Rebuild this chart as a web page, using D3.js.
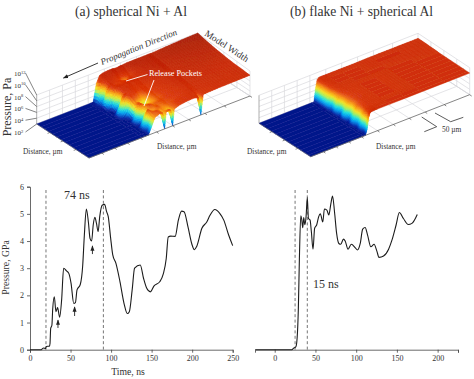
<!DOCTYPE html>
<html><head><meta charset="utf-8">
<script src="https://cdn.jsdelivr.net/npm/d3@7"></script>
<style>html,body{margin:0;padding:0;background:#fff}svg{display:block}text{font-family:"Liberation Serif",serif;fill:#333}</style>
</head><body><svg id="c" width="474" height="379"></svg>
<script>
// ---------- line chart data ----------
const timeA=[0,14,15,17,19,20,24,24.7,25.5,27,28,30,32,34,36.6,39,41.5,45,48,50.6,54,56,58,62,65,67,69.5,72,74,76,78,80,82,84,86,89,92,94.5,96.5,99.5,102,106,111,116,120,122.5,126,129,136,140,144,148.5,153,160,164.5,168,170.5,173.5,179,183,187,190,195,199.5,202.7,205.6,212,218,222,228,234,239,245,250];
const pressA=[0,0,.03,.06,.04,.12,.13,.23,.78,.9,1.5,1.95,1.4,1.55,1.2,1.83,3,2.9,2.8,2.45,1.7,1.73,2.2,2.4,3.1,4.2,5.18,4.7,4.1,4,4.6,4.87,4.65,4.35,4.9,5.32,5.35,5.08,4.9,4.1,3.5,3.18,2.5,1.7,1.33,1.4,2.2,3,3.12,2.63,2.26,2.13,2.35,2.5,2.8,3.35,4.15,4.18,4.17,4.77,5.1,5.08,4.5,3.9,3.68,3.8,4.47,4.7,4.95,5.16,5.02,4.77,4.22,3.83];
const timeB=[-24,21,23,26,27.5,29,30.3,32,33,34.4,35.6,37,38.5,40,41.4,43.4,45,47,49,51.6,54,56,59,61,64,66.4,69,71,73.4,76,78.7,81,84.4,86.5,90,94,99,101.6,105,108,111,114,118,122,125.4,128,133.6,139.8,144,149,153,158,164,168.4,175];
const pressB=[0,0,.05,.11,.42,1.5,3.36,4.93,4.83,4.49,4.86,4.6,4.9,5.6,4.83,4.77,4.34,3.7,4.47,4.6,4.9,5,4.7,5.18,5.14,4.96,5.39,5.66,5.08,4.28,3.91,3.88,4.07,4,3.7,3.88,3.75,3.67,3.91,4.44,4.5,4.22,3.79,3.88,3.63,3.4,3.45,3.7,4.04,4.59,5.05,4.83,4.61,4.65,4.98];
const yTicks=[0,1,2,3,4,5,6];
const xTicksA=[0,50,100,150,200,250];
const xTicksB=[0,50,100,150,200];
const dashA=[19.7,90.5];
const dashB=[25,40];
const upArrowT=[34.5,55,77];
const upArrowFrom=[.8,1.24,3.52];
const upArrowTo=[1.09,1.57,3.82];
// ---------- surface data: log-pressure height (percent of wall), rows across width ----------
const uA=[0,.33,.35,.37,.39,.41,.44,.46,.47,.48,.5,.51,.52,.53,.56,.6,.65,.68,.695,.71,.8,.9,1];
const vA=[0,.08,.15,.22,.3,.38,.46,.54,.62,.7,.78,.86,.93,1];
const zA=[
[0,0,0,60,84,88,90,90,90,89,88,89,90,90,92,92,92,92,92,92,95,98,100],
[0,0,4,72,86,86,84,84,84,83,82,83,84,84,88,90,90,90,90,90,93,95,97],
[0,0,2,20,80,82,76,72,68,62,58,64,72,74,84,88,89,89,89,89,92,93,95],
[0,0,0,66,80,74,72,74,74,74,74,75,76,76,82,86,88,88,88,88,90,92,93],
[0,0,0,0,72,80,78,80,80,80,80,80,80,80,82,86,86,87,87,87,89,90,91],
[0,0,0,0,20,78,80,77,76,76,76,77,78,78,80,84,85,85,85,85,88,89,89],
[0,0,0,40,76,74,76,74,72,73,74,74,74,74,76,80,84,85,85,85,87,88,88],
[0,0,0,0,10,72,68,64,60,64,70,71,72,72,76,80,83,84,84,84,86,86,86],
[0,0,0,0,0,64,50,40,36,46,62,66,70,70,74,78,82,83,83,83,85,85,85],
[0,0,0,0,30,74,60,58,56,58,60,64,68,68,72,76,80,82,82,82,84,84,84],
[0,0,0,0,0,30,72,68,64,66,68,69,70,70,72,76,78,80,80,81,83,83,84],
[0,0,0,0,40,72,56,64,70,66,62,65,68,68,70,74,78,80,78,80,82,82,84],
[0,0,0,0,8,66,70,64,50,60,56,50,54,66,72,76,78,78,72,78,81,82,83],
[0,0,0,0,30,60,68,66,0,64,70,64,0,64,72,76,78,74,0,78,81,82,83]];
const uB=[0,.33,.345,.355,.365,.375,.39,.42,.5,.6,.7,.85,1];
const vB=[0,.08,.16,.24,.32,.4,.48,.56,.64,.72,.8,.88,.95,1];
const zB=[
[0,0,0,44,74,80,81,81,81,81,82,82,82],
[0,0,0,30,64,78,80,80,80,80,81,81,82],
[0,0,2,34,56,74,79,80,80,80,81,81,82],
[0,0,0,32,56,72,78,80,80,80,80,81,81],
[0,0,0,6,30,64,76,79,80,80,80,80,81],
[0,0,0,24,50,58,72,78,79,79,80,80,80],
[0,0,0,2,14,48,68,77,79,79,80,80,80],
[0,0,0,30,40,52,66,76,79,79,80,80,80],
[0,0,0,0,10,34,64,76,79,79,80,80,80],
[0,0,0,20,36,56,68,77,79,79,80,80,80],
[0,0,0,2,14,44,70,78,79,79,80,80,80],
[0,0,0,16,36,64,74,78,80,80,80,80,80],
[0,0,0,3,30,70,78,80,80,80,80,80,80],
[0,0,0,20,64,78,80,80,80,80,80,80,80]];
const uTicks=[.08,.16,.24,.32,.42,.52,.62,.72,.84,1];
const vTicks=[.25,.5,.75];
const zTicks=[0,.2,.4,.6,.8,1];
const zLabelsExp=["2","4","6","8","10","12"];
const colorStops=[0,.04,.16,.27,.38,.48,.6,.72,.85,1];
const colorValues=["#06148a","#0a28a8","#0098f0","#20e0e0","#a8f060","#f4e020","#f89010","#dc380a","#c82606","#a41a02"];

const svg=d3.select("#c");
const color=d3.scaleLinear().domain(colorStops).range(colorValues).interpolate(d3.interpolateRgb).clamp(true);
const defs=svg.append("defs");
defs.append("filter").attr("id","soft").attr("x","-5%").attr("y","-5%").attr("width","110%").attr("height","110%")
  .append("feGaussianBlur").attr("stdDeviation",.4);
defs.append("marker").attr("id","ah").attr("viewBox","0 0 8 6").attr("refX",7).attr("refY",3).attr("markerWidth",6).attr("markerHeight",5).attr("orient","auto")
  .append("path").attr("d","M0,0L8,3L0,6Z").attr("fill","#222");

function panel(cfg){
  const g=svg.append("g");
  const sx=d3.scaleLinear().domain([0,1]).range([0,cfg.long[0]]);
  const sy=d3.scaleLinear().domain([0,1]).range([0,cfg.long[1]]);
  const wx=d3.scaleLinear().domain([0,1]).range([0,cfg.wide[0]]);
  const wy=d3.scaleLinear().domain([0,1]).range([0,cfg.wide[1]]);
  const P=(u,v,z)=>[cfg.o[0]+sx(u)+wx(v),cfg.o[1]+sy(u)+wy(v)-z*(cfg.zFar+(cfg.zNear-cfg.zFar)*v)];
  const L=(a,b,col,w)=>g.append("line").attr("x1",a[0]).attr("y1",a[1]).attr("x2",b[0]).attr("y2",b[1]).attr("stroke",col).attr("stroke-width",w);
  const grid="#d8d8dc";
  zTicks.forEach(z=>{L(P(0,0,z),P(1,0,z),grid,.7);L(P(1,0,z),P(1,1,z),grid,.7);});
  uTicks.forEach(u=>{L(P(u,0,0),P(u,0,1),grid,.7);L(P(u,0,0),P(u,1,0),grid,.7);});
  vTicks.forEach(v=>{L(P(0,v,0),P(1,v,0),grid,.7);L(P(1,v,0),P(1,v,1),grid,.7);});
  L(P(0,0,0),P(0,0,1),"#999",.8);L(P(1,1,0),P(1,1,1),grid,.7);
  L(P(0,0,0),P(1,0,0),grid,.7);L(P(1,0,0),P(1,1,0),grid,.7);
  const sg=g.append("g").attr("filter","url(#soft)");
  const n=6, quads=[];
  for(let r=0;r<cfg.v.length-1;r++) for(let c=cfg.u.length-2;c>=0;c--){
    const a=cfg.z[r][c],b=cfg.z[r][c+1],d=cfg.z[r+1][c],e=cfg.z[r+1][c+1];
    const flat=a===b&&b===d&&d===e, m=flat?1:n;
    const bl=(s,t)=>((a*(1-s)+b*s)*(1-t)+(d*(1-s)+e*s)*t)/100;
    for(let j=0;j<m;j++) for(let i=m-1;i>=0;i--){
      const U=s=>cfg.u[c]+(cfg.u[c+1]-cfg.u[c])*s, V=t=>cfg.v[r]+(cfg.v[r+1]-cfg.v[r])*t;
      const s0=i/m,s1=(i+1)/m,t0=j/m,t1=(j+1)/m;
      const pts=[[s0,t0],[s1,t0],[s1,t1],[s0,t1]].map(q=>P(U(q[0]),V(q[1]),bl(q[0],q[1])));
      quads.push({pts,z:bl((s0+s1)/2,(t0+t1)/2)});
    }
  }
  sg.selectAll("path").data(quads).join("path")
    .attr("d",d=>"M"+d.pts.join("L")+"Z")
    .attr("fill",d=>color(d.z)).attr("stroke",d=>color(d.z)).attr("stroke-width",.4);
  L(P(0,1,0),P(1,1,0),"#666",.8);L(P(0,0,0),P(0,1,0),"#666",.6);
  uTicks.forEach(u=>{const a=P(u,1,0);L(a,[a[0]+2,a[1]+1.4],"#555",.7);});
  vTicks.forEach(v=>{const a=P(0,v,0);L(a,[a[0]-2.2,a[1]+.9],"#555",.7);});
  return {P,g,L};
}
const pa=panel({o:[36.7,124],long:[161,-62],wide:[52.3,34],zFar:29,zNear:25,u:uA,v:vA,z:zA});
const pb=panel({o:[259,123.3],long:[159,-62],wide:[51.7,33.4],zFar:28,zNear:27,u:uB,v:vB,z:zB});

function txt(x,y,s,size,o={}){
  const t=svg.append("text").attr("x",x).attr("y",y).attr("font-size",size).text(s);
  if(o.anchor)t.attr("text-anchor",o.anchor);
  if(o.rot!==undefined)t.attr("transform",`rotate(${o.rot} ${x} ${y})`);
  if(o.italic)t.attr("font-style","italic");
  if(o.fill)t.style("fill",o.fill);
  return t;
}
txt(131,15.8,"(a) spherical Ni + Al",13.6,{anchor:"middle"});
txt(361.5,15.8,"(b) flake Ni + spherical Al",13.6,{anchor:"middle"});
txt(11,107,"Pressure, Pa",12,{anchor:"middle",rot:-90});
txt(102,65,"Propagation Direction",9,{italic:true,rot:-22});
txt(204,35,"Model Width",9.5,{rot:33});
[[23,154],[157,149],[247,154],[376,149]].forEach(p=>txt(p[0],p[1],"Distance, µm",7.4));
txt(442,132,"50 µm",7.4);
txt(149,75.5,"Release Pockets",8.2,{fill:"#fff"});

svg.append("line").attr("x1",98).attr("y1",63).attr("x2",63.5).attr("y2",78).attr("stroke","#222").attr("stroke-width",.9).attr("marker-end","url(#ah)");
[[147.5,74.5,126,81],[154,80,144,106]].forEach(a=>svg.append("line").attr("x1",a[0]).attr("y1",a[1]).attr("x2",a[2]).attr("y2",a[3]).attr("stroke","#fff").attr("stroke-width",.9));
const fan=d3.scaleLinear().domain([0,1]).range([133,74]);
zTicks.forEach((z,i)=>{
  const a=pa.P(0,0,z);
  svg.append("line").attr("x1",25.5).attr("y1",fan(z)-1).attr("x2",a[0]).attr("y2",a[1]).attr("stroke","#666").attr("stroke-width",.8);
  const t=svg.append("text").attr("x",14).attr("y",fan(z)+2).attr("font-size",7);
  t.append("tspan").text("10");
  t.append("tspan").attr("dy",-2.5).attr("font-size",4.5).text(zLabelsExp[i]);
});
[[421.7,117,436.7,126.7,424.3,131.7],[435,113,450.7,121.7,463.3,117.3]].forEach(a=>{
  svg.append("path").attr("d",`M${a[0]},${a[1]}L${a[2]},${a[3]}L${a[4]},${a[5]}`).attr("fill","none").attr("stroke","#333").attr("stroke-width",.8);
});

const y=d3.scaleLinear().domain([0,6]).range([349.7,186.7]);
const xA=d3.scaleLinear().domain([0,250]).range([30,232.7]);
const xB=d3.scaleLinear().domain([-24.2,225]).range([255,458]);
function axis(x,ticks){
  const g=svg.append("g").attr("transform","translate(0,349.7)").call(d3.axisBottom(x).tickValues(ticks).tickSize(3).tickPadding(3).tickFormat(d3.format("d")));
  g.selectAll("text").attr("font-size",8).attr("font-family","Liberation Serif").style("fill","#333");
  g.selectAll("line,path").attr("stroke","#444").attr("stroke-width",.8);
  return g;
}
axis(xA,xTicksA);
axis(xB,xTicksB.concat([225]));
svg.selectAll("g.tick").filter(d=>d===225).select("text").remove();
const gy=svg.append("g").attr("transform","translate(30,0)").call(d3.axisLeft(y).tickValues(yTicks).tickSize(3).tickPadding(3).tickFormat(d3.format("d")));
gy.selectAll("text").attr("font-size",8).attr("font-family","Liberation Serif").style("fill","#333");
gy.selectAll("line,path").attr("stroke","#444").attr("stroke-width",.8);

const dash=(x,t)=>svg.append("line").attr("x1",x(t)).attr("x2",x(t)).attr("y1",190).attr("y2",349.7).attr("stroke","#666").attr("stroke-width",.9).attr("stroke-dasharray","3 2.4");
dashA.forEach(t=>dash(xA,t));dashB.forEach(t=>dash(xB,t));
function curve(x,ts,ps){
  svg.append("path").attr("d",d3.line().x((d,i)=>x(ts[i])).y(d=>y(d)).curve(d3.curveMonotoneX)(ps))
    .attr("fill","none").attr("stroke","#1c1c1c").attr("stroke-width",1.1);
}
curve(xA,timeA,pressA);curve(xB,timeB,pressB);
upArrowT.forEach((t,i)=>svg.append("line").attr("x1",xA(t)).attr("x2",xA(t)).attr("y1",y(upArrowFrom[i])).attr("y2",y(upArrowTo[i])).attr("stroke","#222").attr("stroke-width",.9).attr("marker-end","url(#ah)"));
txt(64,199,"74 ns",12);
txt(313,288,"15 ns",12);
txt(8.8,267.5,"Pressure, GPa",9.7,{anchor:"middle",rot:-90});
txt(128,375,"Time, ns",9.7,{anchor:"middle"});
</script></body></html>
